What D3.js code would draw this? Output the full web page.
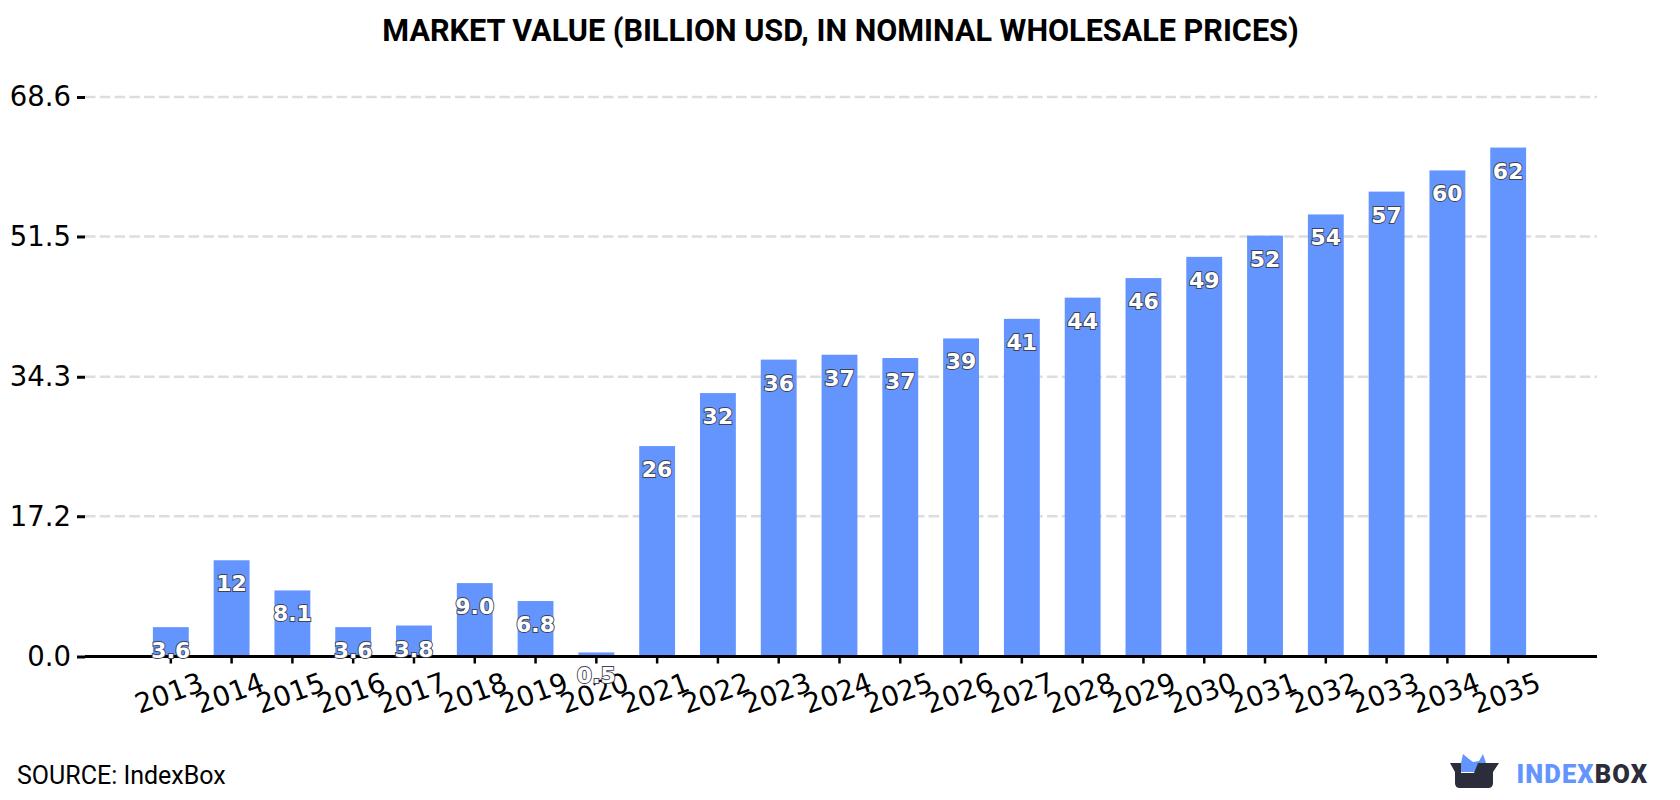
<!DOCTYPE html>
<html>
<head>
<meta charset="utf-8">
<script src="https://cdn.jsdelivr.net/npm/d3@7/dist/d3.min.js"></script>
<style>
  html, body { margin: 0; padding: 0; background: #fff; }
  svg { display: block; }
</style>
</head>
<body>
<svg id="chart" width="1680" height="800"></svg>
<script>
// Market value series, billion USD
const years = ["2013","2014","2015","2016","2017","2018","2019","2020","2021","2022","2023","2024",
  "2025","2026","2027","2028","2029","2030","2031","2032","2033","2034","2035"];
const values = [3.6, 11.8, 8.1, 3.6, 3.8, 9.0, 6.8, 0.5, 25.8, 32.3, 36.4, 37.0,
  36.6, 39.0, 41.4, 44.0, 46.4, 49.0, 51.6, 54.2, 57.0, 59.6, 62.4];
const yTicks = [0, 17.2, 34.3, 51.5, 68.6];
const titleText = "MARKET VALUE (BILLION USD, IN NOMINAL WHOLESALE PRICES)";
const sourceText = "SOURCE: IndexBox";

const BLUE = "#6495ff";
const DARK = "#2b2d3a";
const svg = d3.select("#chart");

const plot = { left: 85, right: 1597, top: 97, bottom: 656.5 };
const x = d3.scaleBand().domain(years).range([plot.left - 0.5, plot.right - 2.5])
  .paddingInner(0.41).paddingOuter(1.125);
const y = d3.scaleLinear().domain([0, 68.6]).range([plot.bottom, plot.top]);

// Values under ten keep one decimal, the rest are whole numbers
const labelFormat = v => v < 10 ? v.toFixed(1) : d3.format(".0f")(v);

svg.append("text")
  .attr("x", 840.5).attr("y", 41)
  .attr("text-anchor", "middle")
  .style("font", "700 30.6px Roboto")
  .attr("fill", "#000")
  .text(titleText);

// Dashed horizontal grid
svg.append("g").selectAll("line")
  .data(yTicks.filter(d => d > 0))
  .join("line")
  .attr("x1", plot.left).attr("x2", plot.right)
  .attr("y1", d => y(d)).attr("y2", d => y(d))
  .attr("stroke", "#dddddd").attr("stroke-width", 2.5)
  .attr("stroke-dasharray", "10.5,4.3");

svg.append("g").selectAll("rect")
  .data(values)
  .join("rect")
  .attr("x", (d, i) => x(years[i]))
  .attr("width", x.bandwidth())
  .attr("y", d => y(d))
  .attr("height", d => y(0) - y(d))
  .attr("fill", BLUE);

// Left axis
const yAxis = svg.append("g")
  .attr("transform", `translate(${plot.left},0)`)
  .call(d3.axisLeft(y).tickValues(yTicks).tickFormat(d3.format(".1f")).tickSize(8).tickPadding(6));
yAxis.select(".domain").remove();
yAxis.selectAll("line").attr("stroke", "#000").attr("stroke-width", 3);
yAxis.selectAll("text").style("font", "27.5px 'DejaVu Sans'").attr("fill", "#000");

// Bottom axis with slanted year labels
const xAxis = svg.append("g")
  .attr("transform", `translate(0,${plot.bottom})`)
  .call(d3.axisBottom(x).tickSize(7).tickPadding(0));
xAxis.select(".domain").attr("stroke", "#000").attr("stroke-width", 3)
  .attr("d", `M${plot.left},0H${plot.right}`);
xAxis.selectAll("line").attr("stroke", "#000").attr("stroke-width", 2.5);
xAxis.selectAll("text")
  .style("font", "27.5px 'DejaVu Sans'")
  .attr("fill", "#000")
  .attr("text-anchor", "middle")
  .attr("dy", 0)
  .attr("transform", "translate(-1,39) rotate(-20)");

// Value labels inside the bars
svg.append("g").selectAll("text")
  .data(values)
  .join("text")
  .attr("x", (d, i) => x(years[i]) + x.bandwidth() / 2)
  .attr("y", d => y(d) + 31)
  .attr("text-anchor", "middle")
  .style("font", "700 22px 'DejaVu Sans'")
  .attr("fill", "#fff")
  .attr("stroke", "#3f4350")
  .attr("stroke-width", 1.8)
  .attr("paint-order", "stroke")
  .text(labelFormat);

svg.append("text")
  .attr("x", 17).attr("y", 784)
  .style("font", "400 25px Roboto")
  .attr("fill", "#000")
  .text(sourceText);

// Brand mark: open box with blue contents, and wordmark
const logo = svg.append("g").attr("transform", "translate(1400,730)");
logo.append("path")
  .attr("d", "M61,33 L63,24 L69,29 L73,32 L79,31 L83,24 L86,33 L78,42 L61,42 Z")
  .attr("fill", BLUE);
logo.append("path")
  .attr("d", "M50,33 H61 V43 H74 L78,33 H99 L93,42 V53 Q93,58 88,58 H60 Q55,58 55,53 V42 Z")
  .attr("fill", DARK);
logo.append("text").attr("x", 116.5).attr("y", 52.5)
  .style("font", "900 25.5px Roboto").style("letter-spacing", "1.1px")
  .attr("fill", BLUE).text("INDEX")
  .append("tspan").attr("fill", DARK).text("BOX");
</script>
</body>
</html>
